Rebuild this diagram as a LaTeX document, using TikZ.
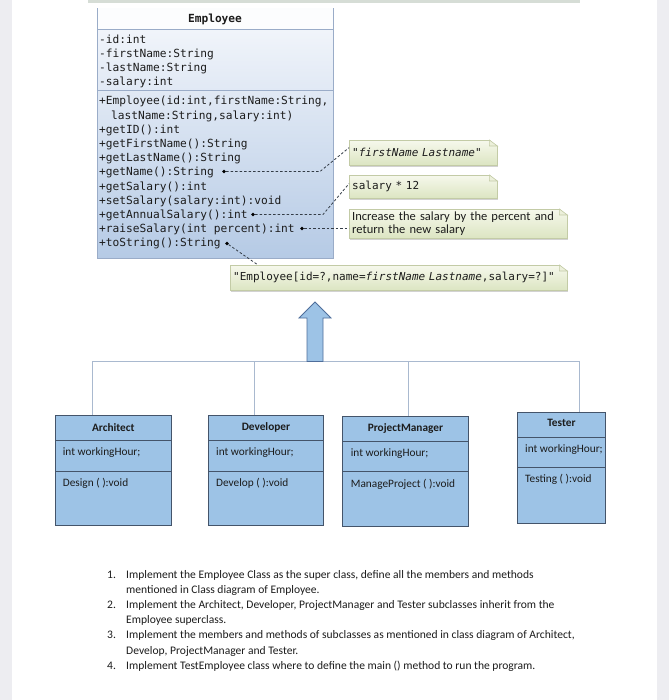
\documentclass[tikz,border=0pt]{standalone}
\usepackage{fontspec}
\setmainfont{Carlito}
\newfontfamily\mono{DejaVu Sans Mono}
\usetikzlibrary{shadows,calc}
\definecolor{empbd}{HTML}{9AACC8}
\definecolor{emptop}{HTML}{F6F8FC}
\definecolor{empbot}{HTML}{B5CAE5}
\definecolor{notetop}{HTML}{F6F8EC}
\definecolor{notebot}{HTML}{DCE5C2}
\definecolor{notebd}{HTML}{C3CBA6}
\definecolor{subfill}{HTML}{9DC3E6}
\definecolor{subbd}{HTML}{44546A}
\definecolor{hierc}{HTML}{A9B9CF}
\definecolor{arrbd}{HTML}{4F6E9B}
\definecolor{dashc}{HTML}{333C46}
\definecolor{txt}{HTML}{1C1C1C}
\definecolor{stripc}{HTML}{EDEDF1}
\definecolor{barc}{HTML}{D6DDD6}
\tikzset{
  mtext/.style={anchor=base west, inner sep=0pt, text=txt, font=\mono\fontsize{11.2pt}{14pt}\selectfont},
  etitle/.style={anchor=base, inner sep=0pt, text=txt, font=\mono\bfseries\fontsize{11.2pt}{14pt}\selectfont},
  dotn/.style={circle, fill=black, inner sep=0pt, minimum size=3.6pt},
  conn/.style={draw=dashc, line width=0.8pt, dash pattern=on 2.5pt off 2pt},
  note/.style={draw=notebd, top color=notetop, bottom color=notebot, anchor=north west,
    inner xsep=3pt, inner ysep=0pt, align=left, text=txt,
    drop shadow={shadow xshift=1.2pt, shadow yshift=-1.5pt, opacity=0.35}},
  mnote/.style={note, font=\mono\fontsize{11pt}{13pt}\selectfont},
  snote/.style={note, font=\fontsize{12.5pt}{13.3pt}\selectfont},
  subbox/.style={draw=subbd, fill=subfill, line width=0.9pt, anchor=north west, inner sep=0pt},
  subline/.style={draw=subbd, line width=0.9pt},
  subtitle/.style={inner sep=0pt, text=txt, font=\bfseries\fontsize{11.3pt}{13pt}\selectfont},
  subtext/.style={anchor=west, inner sep=0pt, text=txt, font=\fontsize{11.3pt}{13pt}\selectfont},
  hier/.style={draw=hierc, line width=1pt},
  ltext/.style={anchor=base west, inner sep=0pt, text=txt, font=\fontsize{11.55pt}{15pt}\selectfont},
}
\begin{document}
\begin{tikzpicture}[x=1pt,y=-1pt]
\useasboundingbox (0,0) rectangle (669,700);
\fill[white] (0,0) rectangle (669,700);
\fill[stripc] (0,0) rectangle (12,700);
\fill[stripc] (657,0) rectangle (669,700);
\fill[barc] (88,0) rectangle (580,3);

% Employee class
\node[draw=empbd, line width=0.9pt, top color=emptop, bottom color=empbot, anchor=north west,
  inner sep=0pt, minimum width=236pt, minimum height=250pt] (emp) at (97,8) {};
\fill[white!70!emptop] ($(emp.north west)+(0.5,0.5)$) rectangle ($(emp.north east)+(-0.5,21.5)$);
\draw[empbd, line width=0.9pt] ($(emp.north west)+(0,21.5)$) -- ($(emp.north east)+(0,21.5)$);
\draw[empbd, line width=0.9pt] ($(emp.north west)+(0,82)$) -- ($(emp.north east)+(0,82)$);
\node[etitle] (emp-t) at (215,23) {Employee};
\node[mtext] (a1) at (99,44) {-id:int};
\node[mtext] (a2) at (99,58) {-firstName:String};
\node[mtext] (a3) at (99,72) {-lastName:String};
\node[mtext] (a4) at (99,86) {-salary:int};
\node[mtext] (m1) at (99,105) {+Employee(id:int,firstName:String,};
\node[mtext] (m2) at (111,119.2) {lastName:String,salary:int)};
\node[mtext] (m3) at (99,133.4) {+getID():int};
\node[mtext] (m4) at (99,147.6) {+getFirstName():String};
\node[mtext] (m5) at (99,161.8) {+getLastName():String};
\node[mtext] (m6) at (99,176) {+getName():String};
\node[mtext] (m7) at (99,190.2) {+getSalary():int};
\node[mtext] (m8) at (99,204.4) {+setSalary(salary:int):void};
\node[mtext] (m9) at (99,218.6) {+getAnnualSalary():int};
\node[mtext] (m10) at (99,232.8) {+raiseSalary(int percent):int};
\node[mtext] (m11) at (99,247) {+toString():String};

% dots
\node[dotn] (d1) at (224,171.5) {};
\node[dotn] (d2) at (253,214.5) {};
\node[dotn] (d3) at (302,228.5) {};
\node[dotn] (d4) at (227,243.5) {};

% notes
\node[mnote, text width=142pt, minimum height=25pt] (n1) at (349,140) {"\textit{firstName Lastname}"};
\node[mnote, text width=142pt, minimum height=23pt] (n2) at (349,175) {salary * 12};
\node[snote, text width=212pt, minimum height=29pt] (n3) at (349,209) {Increase the salary by the percent and\\return the new salary};
\node[mnote, text width=331pt, minimum height=25pt, inner xsep=3pt] (n4) at (230,265) {"Employee[id=?,name=\textit{firstName Lastname},salary=?]"};
\foreach \n in {n1,n2,n3,n4}{
  \fill[white] ($(\n.north east)+(-8,-0.6)$) -- ($(\n.north east)+(0.6,-0.6)$) -- ($(\n.north east)+(0.6,6)$) -- cycle;
  \filldraw[fill=notetop!60!notebot, draw=notebd, line width=0.6pt] ($(\n.north east)+(-8,0)$) -- ($(\n.north east)+(0,6)$) -- ($(\n.north east)+(-8,6)$) -- cycle;
}

% connectors
\coordinate (b1) at (320,171.5);
\coordinate (b2) at (323,214.5);
\draw[conn] (d1) -- (b1) -- ($(n1.west)+(0,-5)$);
\draw[conn] (d2) -- (b2) -- ($(n2.west)+(0,-3)$);
\draw[conn] (d3) -- (d3 -| n3.west);
\draw[conn] (d4) -- ($(n4.north west)+(28,0)$);

% inheritance
\coordinate (bus) at (315,361.5);
\coordinate (ja) at (92,415);
\coordinate (jd) at (254,415);
\coordinate (jp) at (408,416);
\coordinate (jt) at (579,412);
\draw[hier] (ja) -- (ja |- bus) -| (jt);
\draw[hier] (jd) -- (jd |- bus);
\draw[hier] (jp) -- (jp |- bus);
\filldraw[fill=subfill, draw=arrbd, line width=0.8pt] (315,302) -- (331,318) -- (323,318) -- (323,361.5) -- (307,361.5) -- (307,318) -- (299,318) -- cycle;

% subclasses
\node[subbox, minimum width=115.7pt, minimum height=110pt] (arch) at (55,415) {};
\draw[subline] ($(arch.north west)+(0,25.7)$) -- ($(arch.north east)+(0,25.7)$);
\draw[subline] ($(arch.north west)+(0,56)$) -- ($(arch.north east)+(0,56)$);
\node[subtitle] (arch-t) at ($(arch.north)+(0,12.3)$) {Architect};
\node[subtext] (arch-a) at ($(arch.north west)+(7.7,37.7)$) {int workingHour;};
\node[subtext] (arch-m) at ($(arch.north west)+(7.7,68.3)$) {Design ( ):void};

\node[subbox, minimum width=115pt, minimum height=110pt] (dev) at (208,415) {};
\draw[subline] ($(dev.north west)+(0,25.7)$) -- ($(dev.north east)+(0,25.7)$);
\draw[subline] ($(dev.north west)+(0,56)$) -- ($(dev.north east)+(0,56)$);
\node[subtitle] (dev-t) at ($(dev.north)+(0,12.3)$) {Developer};
\node[subtext] (dev-a) at ($(dev.north west)+(8,37.7)$) {int workingHour;};
\node[subtext] (dev-m) at ($(dev.north west)+(8,68.3)$) {Develop ( ):void};

\node[subbox, minimum width=126pt, minimum height=110pt] (pm) at (342,416) {};
\draw[subline] ($(pm.north west)+(0,25)$) -- ($(pm.north east)+(0,25)$);
\draw[subline] ($(pm.north west)+(0,55.7)$) -- ($(pm.north east)+(0,55.7)$);
\node[subtitle] (pm-t) at ($(pm.north)+(0,12.3)$) {ProjectManager};
\node[subtext] (pm-a) at ($(pm.north west)+(8.7,37.3)$) {int workingHour;};
\node[subtext] (pm-m) at ($(pm.north west)+(8.7,68)$) {ManageProject ( ):void};

\node[subbox, minimum width=88pt, minimum height=110.7pt] (tst) at (517,412) {};
\draw[subline] ($(tst.north west)+(0,25.7)$) -- ($(tst.north east)+(0,25.7)$);
\draw[subline] ($(tst.north west)+(0,55.7)$) -- ($(tst.north east)+(0,55.7)$);
\node[subtitle] (tst-t) at ($(tst.north)+(0,11.3)$) {Tester};
\node[subtext] (tst-a) at ($(tst.north west)+(8,38)$) {int workingHour;};
\node[subtext] (tst-m) at ($(tst.north west)+(8,67.3)$) {Testing ( ):void};

% task list
\node[ltext] (l1n) at (107,578.5) {1.};
\node[ltext] (l1a) at (126,578.5) {Implement the Employee Class as the super class, define all the members and methods};
\node[ltext] (l1b) at (126,593.5) {mentioned in Class diagram of Employee.};
\node[ltext] (l2n) at (107,608.5) {2.};
\node[ltext] (l2a) at (126,608.5) {Implement the Architect, Developer, ProjectManager and Tester subclasses inherit from the};
\node[ltext] (l2b) at (126,623.5) {Employee superclass.};
\node[ltext] (l3n) at (107,638.8) {3.};
\node[ltext] (l3a) at (126,638.8) {Implement the members and methods of subclasses as mentioned in class diagram of Architect,};
\node[ltext] (l3b) at (126,654) {Develop, ProjectManager and Tester.};
\node[ltext] (l4n) at (107,669.5) {4.};
\node[ltext] (l4a) at (126,669.5) {Implement TestEmployee class where to define the main () method to run the program.};
\end{tikzpicture}
\end{document}
